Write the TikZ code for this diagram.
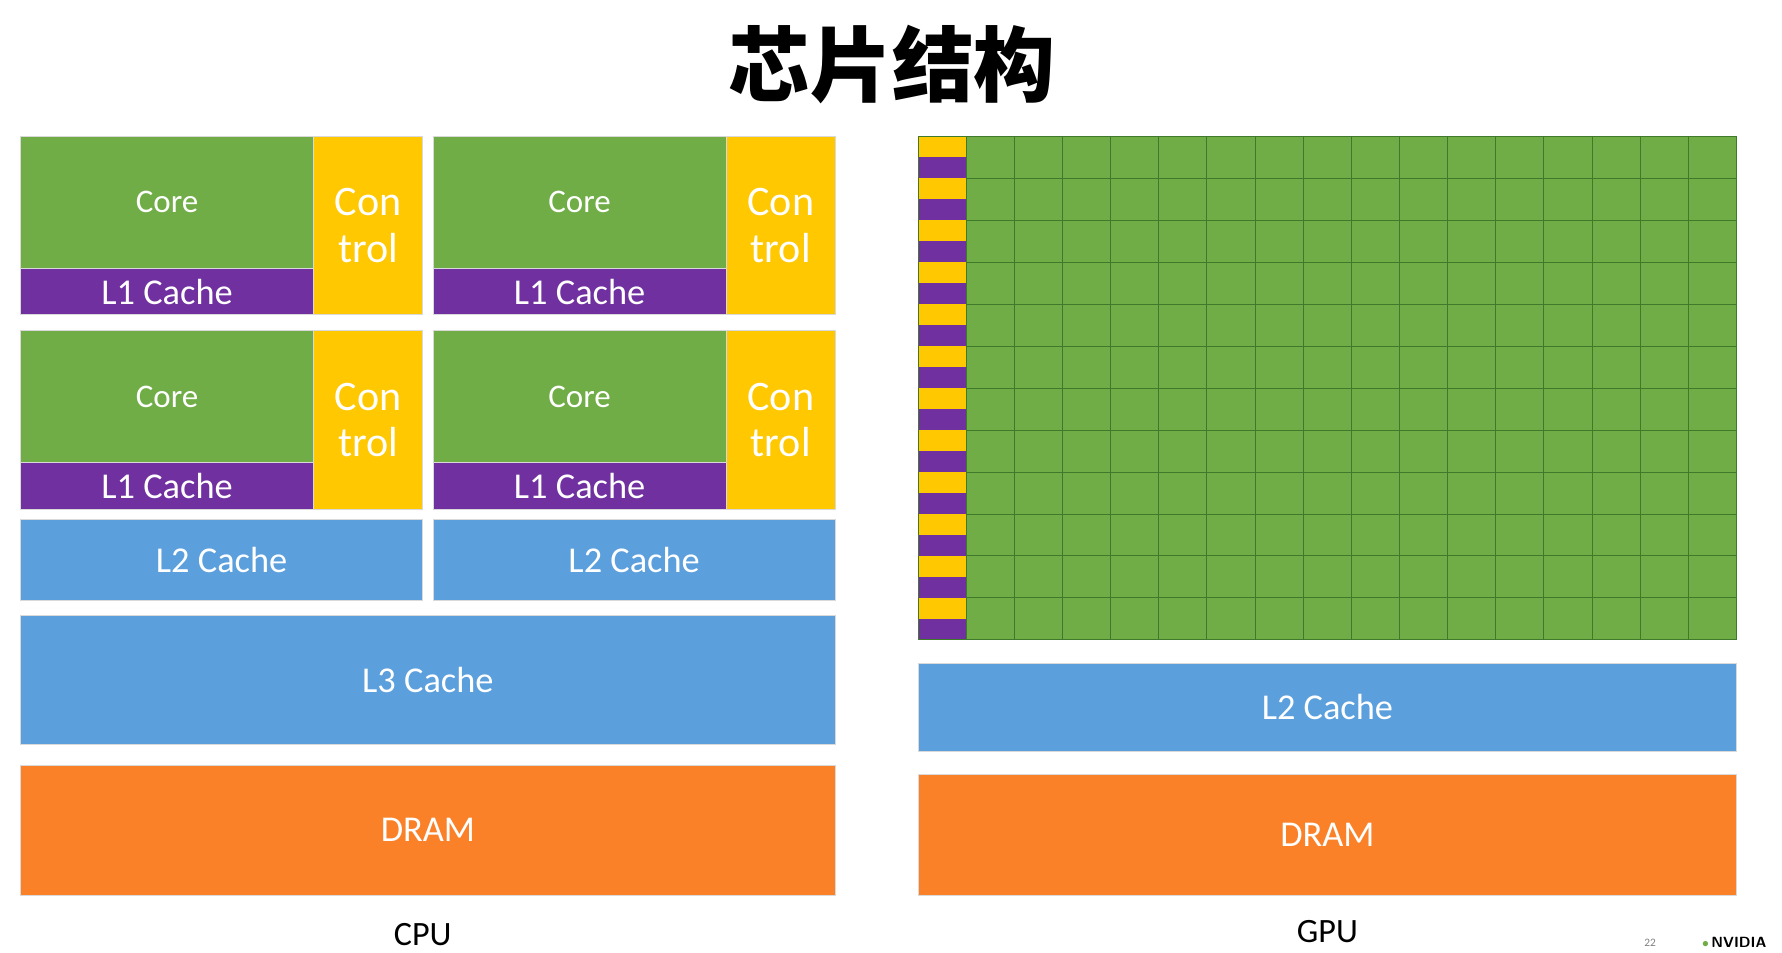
\documentclass[tikz,border=0pt]{standalone}
\usepackage{fontspec}
\setmainfont{Carlito}
\newfontfamily\cjk{Noto Sans CJK SC}
\definecolor{cgreen}{HTML}{70AD47}
\definecolor{cpurple}{HTML}{7030A0}
\definecolor{cyellow}{HTML}{FFC800}
\definecolor{cblue}{HTML}{5B9FDD}
\definecolor{corange}{HTML}{FA8128}
\definecolor{gline}{HTML}{3E7A2A}
\begin{document}
\begin{tikzpicture}[x=1pt,y=-1pt,
  blk/.style={anchor=north west,inner sep=0,outer sep=0,text=white,align=center,draw=white!85!black,line width=0.6pt},
  t26/.style={font=\fontsize{29}{30}\selectfont},
  t30/.style={font=\fontsize{32}{34}\selectfont},
  t36/.style={font=\fontsize{37}{41}\selectfont}]
\useasboundingbox (0,0) rectangle (1568,838);
\node[font=\cjk\bfseries\fontsize{72}{76}\selectfont] (title) at (785,57) {芯片结构};
% CPU cores
\foreach \i/\x in {a/18,b/381}{
 \foreach \j/\y in {1/120,2/291}{
  \node[blk,fill=cgreen,minimum width=258pt,minimum height=116pt] (core\i\j) at (\x,\y) {};
  \node[t26,text=white] at ([yshift=-58pt]core\i\j.north) {Core};
  \node[blk,fill=cpurple,minimum width=258pt,minimum height=41pt,t30] (lone\i\j) at (\x,\y+116) {L1 Cache};
  \node[blk,fill=cyellow,minimum width=96pt,minimum height=157pt,t36] (ctl\i\j) at (\x+258,\y) {Con\\trol};
 }}
\node[blk,fill=cblue,minimum width=354pt,minimum height=71pt,t30] (ltwoa) at (18,457) {L2 Cache};
\node[blk,fill=cblue,minimum width=354pt,minimum height=71pt,t30] (ltwob) at (381,457) {L2 Cache};
\node[blk,fill=cblue,minimum width=717pt,minimum height=114pt,t30] (lthree) at (18,541) {L3 Cache};
\node[blk,fill=corange,minimum width=717pt,minimum height=115pt,t30] (drama) at (18,673) {DRAM};
\node[font=\fontsize{30}{31}\selectfont] (cpu) at (372,822) {CPU};
% GPU
\node[blk,fill=cgreen,draw=none,minimum width=720pt,minimum height=443pt] (grid) at (808,120) {};
\foreach \k in {0,...,23}{
  \pgfmathsetmacro\yy{120+\k*443/24}
  \ifodd\k \def\cc{cpurple}\else\def\cc{cyellow}\fi
  \fill[\cc] (808,\yy) rectangle (850,\yy+443/24);
}
\foreach \c in {0,...,16}{\draw[gline,line width=0.8pt] (850+\c*678/16,120) -- (850+\c*678/16,563);}
\foreach \r in {0,...,12}{\draw[gline,line width=0.8pt] (850,120+\r*443/12) -- (1528,120+\r*443/12);}
\draw[gline,line width=0.8pt] (808,120) rectangle (1528,563);
\node[blk,fill=cblue,minimum width=720pt,minimum height=77pt,t30] (ltwog) at (808,584) {L2 Cache};
\node[blk,fill=corange,minimum width=720pt,minimum height=107pt,t30] (dramg) at (808,681) {DRAM};
\node[font=\fontsize{30}{31}\selectfont] (gpu) at (1168,820) {GPU};
\node[font=\fontsize{10}{11}\selectfont,text=gray] (pg) at (1452,830) {22};
\node[font=\sffamily\bfseries\fontsize{13}{14}\selectfont] (nv) at (1526,829) {\textcolor{cgreen}{$\bullet$}\,NVIDIA};
\end{tikzpicture}
\end{document}
